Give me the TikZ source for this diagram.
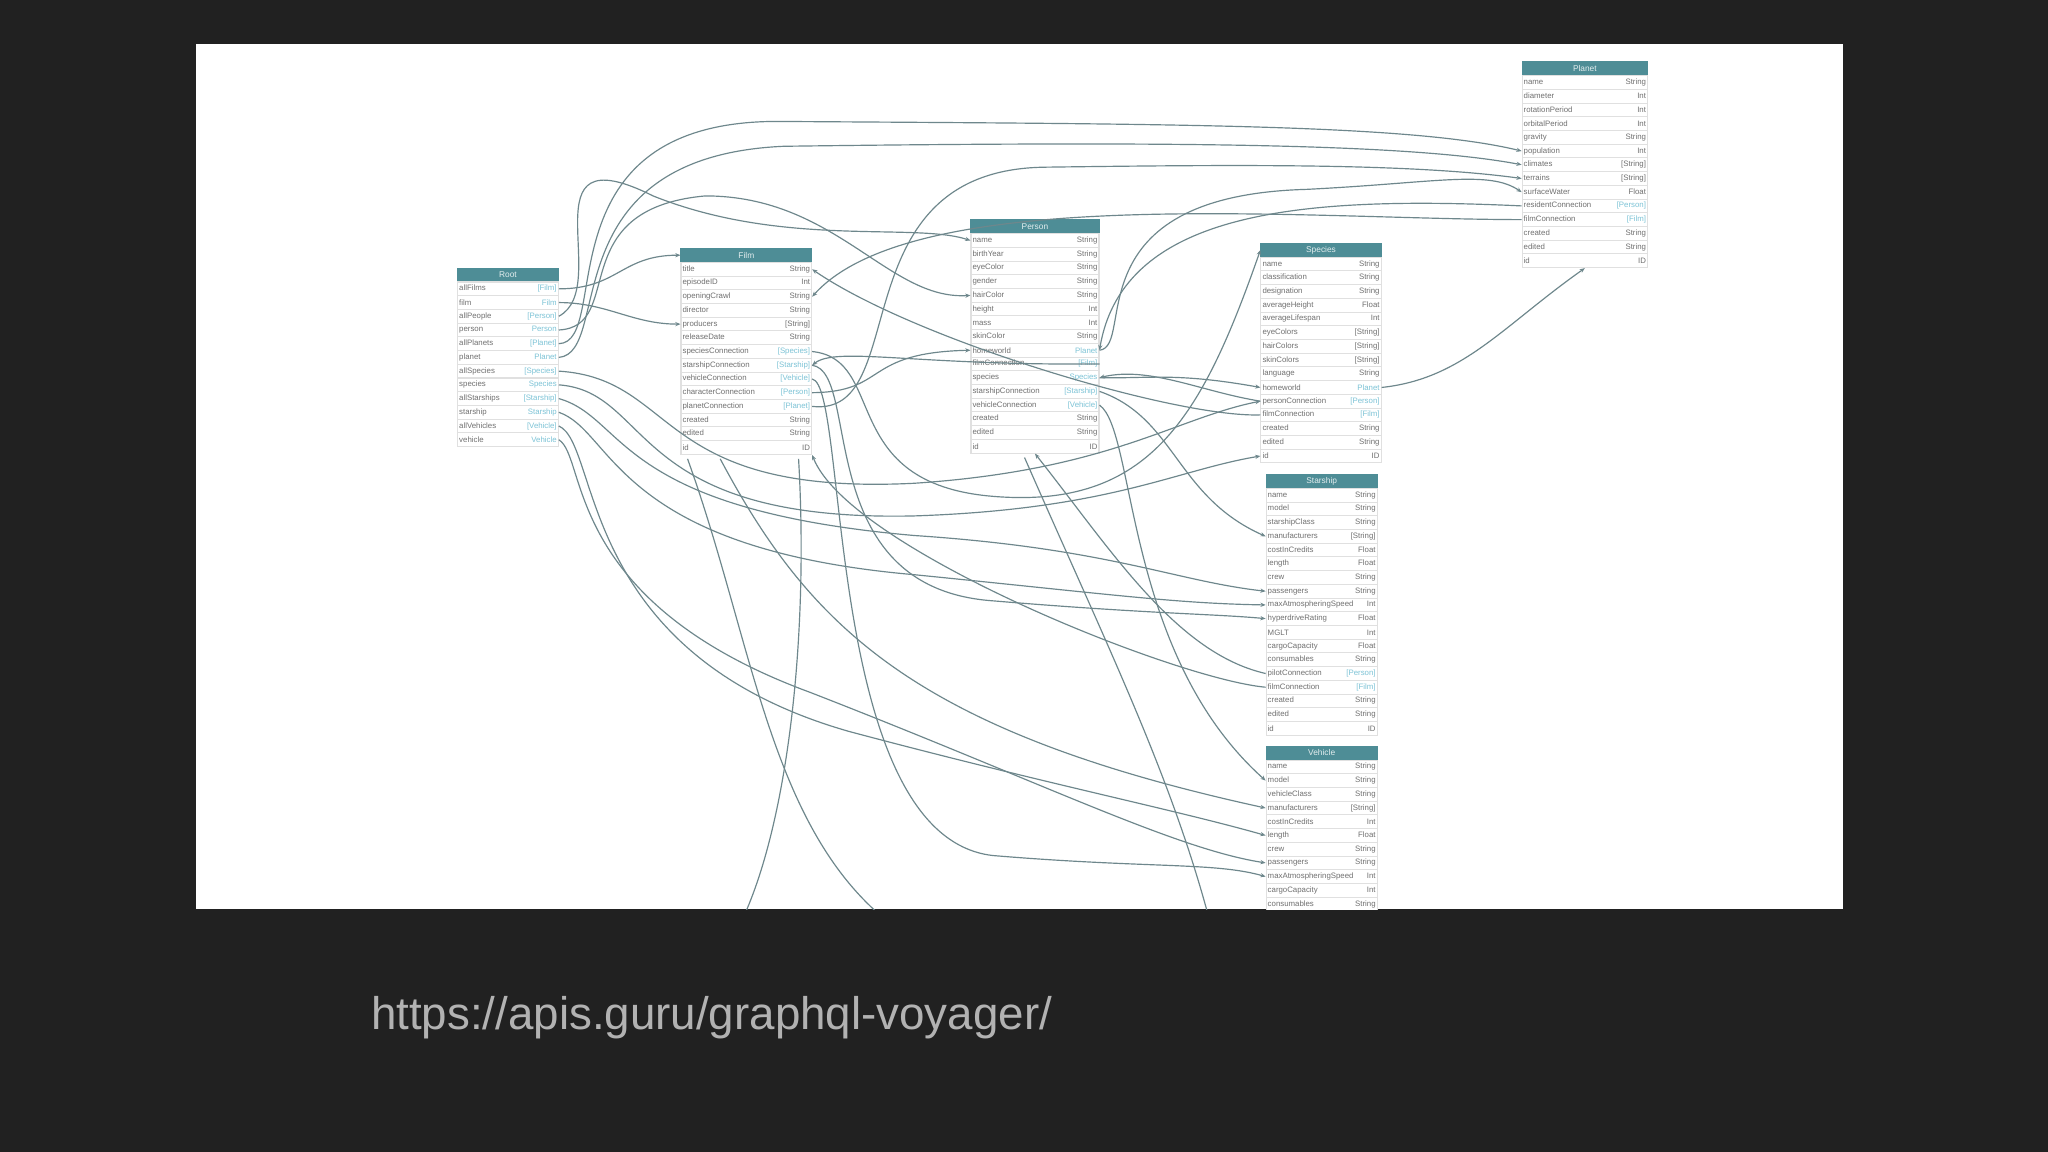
\documentclass[tikz,border=0pt]{standalone}
\usepackage{fontspec}
\setmainfont{Liberation Sans}
\usetikzlibrary{arrows.meta}
\definecolor{bg}{HTML}{212121}
\definecolor{hdr}{HTML}{4E8D96}
\definecolor{rowtxt}{HTML}{707070}
\definecolor{lnk}{HTML}{7CC3D6}
\definecolor{edgec}{HTML}{6E878C}
\newcommand{\Sc}[1]{\textcolor{rowtxt}{#1}}
\newcommand{\Lk}[1]{\textcolor{lnk}{#1}}
\tikzset{
  rowbox/.style={draw=black!12,fill=white,inner sep=0.6pt,minimum height=5.25pt,anchor=north west,font=\fontsize{3}{3.4}\selectfont,text=rowtxt,align=left},
  hdrbox/.style={draw=hdr,fill=hdr,inner sep=0pt,minimum height=5pt,anchor=north west,font=\fontsize{3.2}{3.5}\selectfont,text=white!85!hdr},
  edge/.style={draw=edgec,line width=0.45pt,-{Stealth[length=2pt,width=1.6pt]}},
}
\newcommand{\dbtable}[6]{%
  \node[hdrbox,minimum width=#4*0.5pt] (#1-0) at (#2,#3) {#5};
  \foreach \f/\t [count=\i] in {#6}{
    \node[rowbox,minimum width=#4*0.5pt,text width=#4*0.5pt-1.2pt] (#1-\i) at (#2,{#3+10.5*\i}) {\f\hfill\t};
  }%
}
\begin{document}
\begin{tikzpicture}[x=0.5pt,y=-0.5pt]
\fill[bg] (0,0) rectangle (1568,882);
\useasboundingbox (0,0) rectangle (1568,882);
\begin{scope}
\clip (150,34) rectangle (1411,696);
\fill[white] (150,34) rectangle (1411,696);
\dbtable{root}{350}{205}{77}{Root}{allFilms/\Lk{[Film]},film/\Lk{Film},allPeople/\Lk{[Person]},person/\Lk{Person},allPlanets/\Lk{[Planet]},planet/\Lk{Planet},allSpecies/\Lk{[Species]},species/\Lk{Species},allStarships/\Lk{[Starship]},starship/\Lk{Starship},allVehicles/\Lk{[Vehicle]},vehicle/\Lk{Vehicle}}
\dbtable{film}{521}{190}{100}{Film}{title/\Sc{String},episodeID/\Sc{Int},openingCrawl/\Sc{String},director/\Sc{String},producers/\Sc{[String]},releaseDate/\Sc{String},speciesConnection/\Lk{[Species]},starshipConnection/\Lk{[Starship]},vehicleConnection/\Lk{[Vehicle]},characterConnection/\Lk{[Person]},planetConnection/\Lk{[Planet]},created/\Sc{String},edited/\Sc{String},id/\Sc{ID}}
\dbtable{person}{743}{168}{98}{Person}{name/\Sc{String},birthYear/\Sc{String},eyeColor/\Sc{String},gender/\Sc{String},hairColor/\Sc{String},height/\Sc{Int},mass/\Sc{Int},skinColor/\Sc{String},homeworld/\Lk{Planet},filmConnection/\Lk{[Film]},species/\Lk{Species},starshipConnection/\Lk{[Starship]},vehicleConnection/\Lk{[Vehicle]},created/\Sc{String},edited/\Sc{String},id/\Sc{ID}}
\dbtable{species}{965}{186}{92}{Species}{name/\Sc{String},classification/\Sc{String},designation/\Sc{String},averageHeight/\Sc{Float},averageLifespan/\Sc{Int},eyeColors/\Sc{[String]},hairColors/\Sc{[String]},skinColors/\Sc{[String]},language/\Sc{String},homeworld/\Lk{Planet},personConnection/\Lk{[Person]},filmConnection/\Lk{[Film]},created/\Sc{String},edited/\Sc{String},id/\Sc{ID}}
\dbtable{starship}{969}{363}{85}{Starship}{name/\Sc{String},model/\Sc{String},starshipClass/\Sc{String},manufacturers/\Sc{[String]},costInCredits/\Sc{Float},length/\Sc{Float},crew/\Sc{String},passengers/\Sc{String},maxAtmospheringSpeed/\Sc{Int},hyperdriveRating/\Sc{Float},MGLT/\Sc{Int},cargoCapacity/\Sc{Float},consumables/\Sc{String},pilotConnection/\Lk{[Person]},filmConnection/\Lk{[Film]},created/\Sc{String},edited/\Sc{String},id/\Sc{ID}}
\dbtable{vehicle}{969}{571}{85}{Vehicle}{name/\Sc{String},model/\Sc{String},vehicleClass/\Sc{String},manufacturers/\Sc{[String]},costInCredits/\Sc{Int},length/\Sc{Float},crew/\Sc{String},passengers/\Sc{String},maxAtmospheringSpeed/\Sc{Int},cargoCapacity/\Sc{Int},consumables/\Sc{String},created/\Sc{String}}
\dbtable{planet}{1165}{47}{96}{Planet}{name/\Sc{String},diameter/\Sc{Int},rotationPeriod/\Sc{Int},orbitalPeriod/\Sc{Int},gravity/\Sc{String},population/\Sc{Int},climates/\Sc{[String]},terrains/\Sc{[String]},surfaceWater/\Sc{Float},residentConnection/\Lk{[Person]},filmConnection/\Lk{[Film]},created/\Sc{String},edited/\Sc{String},id/\Sc{ID}}
% Root edges
\draw[edge] (root-1.east) to[out=0,in=180,looseness=1.2] (film-0.west);
\draw[edge] (root-2.east) to[out=0,in=180] (film-5.west);
\draw[edge] (root-3.east) .. controls (470,220) and (400,100) .. (500,150) .. controls (600,190) and (700,170) .. (person-1.west);
\draw[edge] (root-4.east) .. controls (480,250) and (430,160) .. (540,150) .. controls (640,150) and (680,230) .. (person-5.west);
\draw[edge] (root-5.east) .. controls (470,262) and (410,90) .. (600,93) .. controls (900,95) and (1080,95) .. (planet-6.west);
\draw[edge] (root-6.east) .. controls (470,270) and (420,120) .. (600,112) .. controls (900,108) and (1080,110) .. (planet-7.west);
\draw[edge] (root-7.east) .. controls (520,290) and (500,380) .. (700,370) .. controls (850,360) and (900,320) .. (species-11.west);
\draw[edge] (root-8.east) .. controls (500,300) and (480,400) .. (700,395) .. controls (850,390) and (900,360) .. (species-15.west);
\draw[edge] (root-9.east) .. controls (480,320) and (470,390) .. (700,410) .. controls (850,420) and (900,445) .. (starship-8.west);
\draw[edge] (root-10.east) .. controls (470,330) and (470,420) .. (700,440) .. controls (850,455) and (900,462) .. (starship-9.west);
\draw[edge] (root-11.east) .. controls (460,340) and (440,500) .. (650,560) .. controls (800,600) and (900,620) .. (vehicle-6.west);
\draw[edge] (root-12.east) .. controls (450,350) and (430,460) .. (620,530) .. controls (800,600) and (900,650) .. (vehicle-8.west);
% Film edges
\draw[edge] (film-7.east) .. controls (680,275) and (640,370) .. (760,380) .. controls (880,390) and (920,320) .. (species-0.west);
\draw[edge] (film-8.east) .. controls (660,285) and (620,450) .. (760,460) .. controls (880,470) and (930,470) .. (starship-10.west);
\draw[edge] (film-9.east) .. controls (650,295) and (630,640) .. (760,655) .. controls (880,665) and (930,660) .. (vehicle-9.west);
\draw[edge] (film-10.east) .. controls (680,300) and (660,270) .. (person-9.west);
\draw[edge] (film-11.east) .. controls (700,320) and (640,130) .. (800,128) .. controls (950,126) and (1080,125) .. (planet-8.west);
% Person edges
\draw[edge] (person-9.east) .. controls (870,265) and (820,150) .. (1000,145) .. controls (1100,140) and (1140,130) .. (planet-9.west);
\draw[edge] (person-10.east) .. controls (700,280) and (640,265) .. (film-8.east);
\draw[edge] (person-11.east) .. controls (880,290) and (900,285) .. (species-10.west);
\draw[edge] (person-12.east) .. controls (900,320) and (900,380) .. (starship-4.west);
\draw[edge] (person-13.east) .. controls (870,330) and (860,500) .. (vehicle-2.west);
% Species edges
\draw[edge] (species-10.east) .. controls (1120,290) and (1150,250) .. (planet-14.south);
\draw[edge] (species-11.west) .. controls (920,300) and (880,280) .. (person-11.east);
\draw[edge] (species-12.west) .. controls (900,320) and (700,260) .. (film-1.east);
% Starship edges
\draw[edge] (starship-14.west) .. controls (900,500) and (850,420) .. (person-16.south);
\draw[edge] (starship-15.west) .. controls (900,520) and (650,420) .. (film-14.south east);
% Planet edges
\draw[edge] (planet-10.west) .. controls (1000,150) and (860,160) .. (person-9.east);
\draw[edge] (planet-11.west) .. controls (1000,168) and (700,140) .. (film-3.east);
% edges leaving bottom
\draw[edge] (film-14.south) ++(-45,3) .. controls (580,500) and (590,650) .. (700,720);
\draw[edge] (person-16.south) ++(-8,3) .. controls (850,500) and (900,600) .. (930,720);
\draw[edge] (film-14.south) ++(-20,3) .. controls (620,480) and (700,560) .. (vehicle-4.west);
\draw[edge] (film-14.south) ++(40,3) .. controls (620,500) and (600,650) .. (560,720);
\end{scope}
\node[anchor=west,text=black!30,font=\fontsize{17.5}{20}\selectfont] (url) at (277,779) {https://apis.guru/graphql-voyager/};
\end{tikzpicture}
\end{document}
